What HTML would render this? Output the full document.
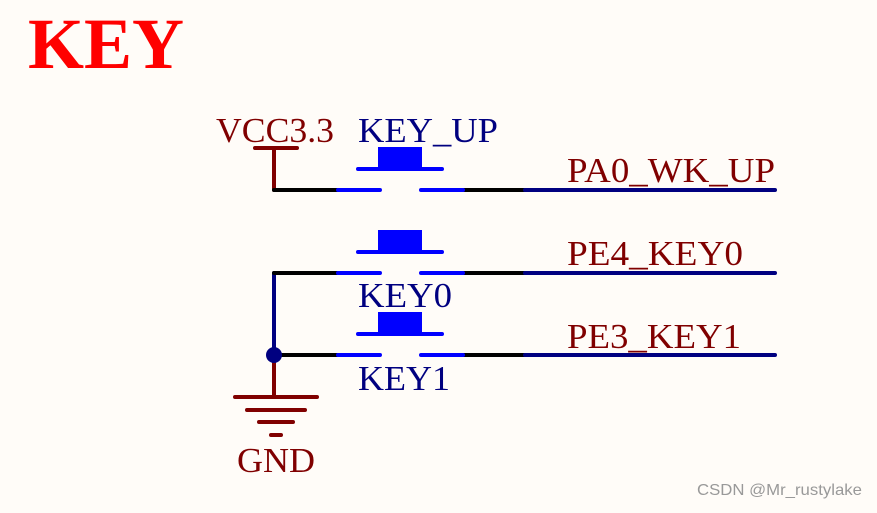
<!DOCTYPE html>
<html><head><style>html,body{margin:0;padding:0;background:#fffcf8}</style></head>
<body>
<svg width="877" height="508" viewBox="0 0 877 508" xmlns="http://www.w3.org/2000/svg">
<rect width="877" height="508" fill="#fffcf8"/>
<text x="28" y="68" font-family="Liberation Serif,serif" font-weight="bold" font-size="72" fill="#ff0000" textLength="156" lengthAdjust="spacingAndGlyphs">KEY</text>
<g font-family="Liberation Serif,serif" font-size="35">
<text x="216" y="142" fill="#800000" textLength="118" lengthAdjust="spacingAndGlyphs">VCC3.3</text>
<text x="358" y="142" fill="#000080" textLength="140" lengthAdjust="spacingAndGlyphs">KEY_UP</text>
<text x="567" y="182" fill="#800000" textLength="208" lengthAdjust="spacingAndGlyphs">PA0_WK_UP</text>
<text x="567" y="265" fill="#800000" textLength="176" lengthAdjust="spacingAndGlyphs">PE4_KEY0</text>
<text x="567" y="348" fill="#800000" textLength="174" lengthAdjust="spacingAndGlyphs">PE3_KEY1</text>
<text x="358" y="307" fill="#000080" textLength="94" lengthAdjust="spacingAndGlyphs">KEY0</text>
<text x="358" y="390" fill="#000080" textLength="92" lengthAdjust="spacingAndGlyphs">KEY1</text>
<text x="237" y="472" fill="#800000" textLength="78" lengthAdjust="spacingAndGlyphs">GND</text>
</g>
<g stroke-linecap="round" fill="none">
<line x1="255" y1="148" x2="297" y2="148" stroke="#800000" stroke-width="4"/>
<line x1="274" y1="148" x2="274" y2="190" stroke="#800000" stroke-width="4"/>
<line x1="274" y1="273" x2="274" y2="355" stroke="#000080" stroke-width="4"/>
<line x1="274" y1="355" x2="274" y2="397" stroke="#800000" stroke-width="4"/>
<line x1="235" y1="397" x2="317" y2="397" stroke="#800000" stroke-width="4"/>
<line x1="247" y1="410" x2="305" y2="410" stroke="#800000" stroke-width="4"/>
<line x1="259" y1="422" x2="293" y2="422" stroke="#800000" stroke-width="4"/>
<line x1="271" y1="435" x2="281" y2="435" stroke="#800000" stroke-width="4"/>
</g>
<g stroke-linecap="round">
<g id="r1">
<line x1="274" y1="190" x2="340" y2="190" stroke="#000" stroke-width="4"/>
<line x1="463" y1="190" x2="525" y2="190" stroke="#000" stroke-width="4"/>
<line x1="525" y1="190" x2="775" y2="190" stroke="#000080" stroke-width="4"/>
<line x1="338" y1="190" x2="380" y2="190" stroke="#0000ff" stroke-width="4"/>
<line x1="421" y1="190" x2="463" y2="190" stroke="#0000ff" stroke-width="4"/>
<line x1="358" y1="169" x2="442" y2="169" stroke="#0000ff" stroke-width="4"/>
<rect x="378" y="147" width="44" height="22" fill="#0000ff"/>
</g>
<use href="#r1" transform="translate(0,83)"/>
<use href="#r1" transform="translate(0,165)"/>
</g>
<circle cx="274" cy="355" r="8" fill="#000080"/>
<text x="697" y="495" font-family="Liberation Sans,sans-serif" font-size="16" fill="#999" textLength="165" lengthAdjust="spacingAndGlyphs">CSDN @Mr_rustylake</text>
</svg>
</body></html>
